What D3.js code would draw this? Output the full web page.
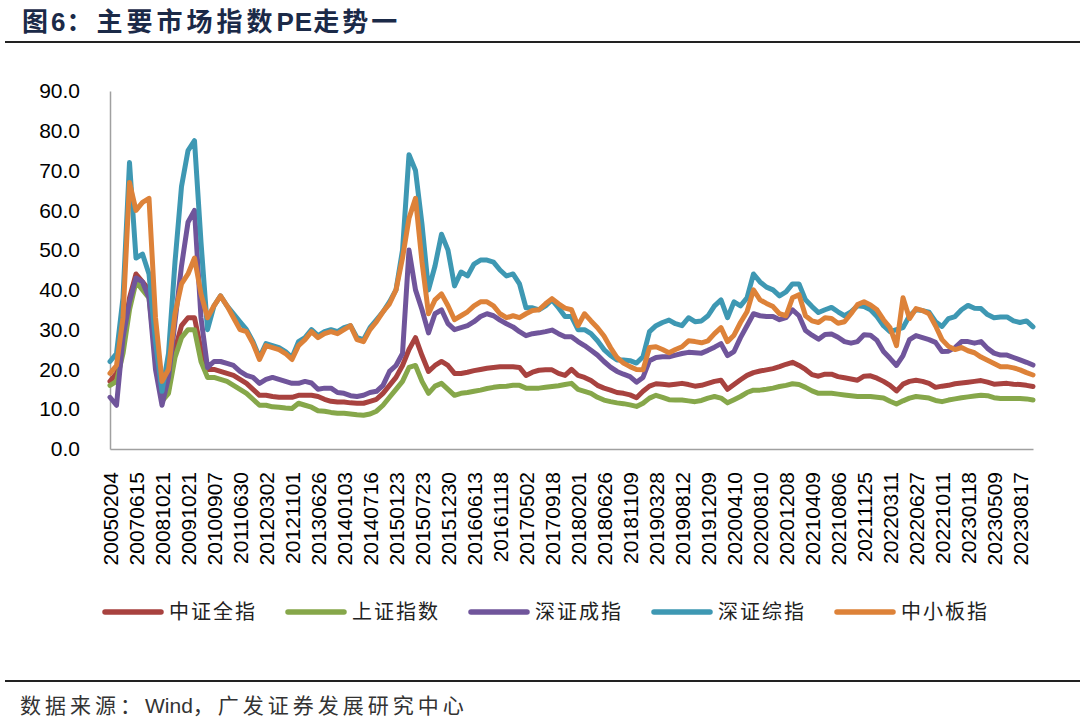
<!DOCTYPE html>
<html>
<head>
<meta charset="utf-8">
<script src="https://cdn.jsdelivr.net/npm/d3@7"></script>
<style>
  body { margin: 0; background: #fff; }
  svg { display: block; }
  .cn { font-family: "Noto Sans CJK SC", sans-serif; }
  .num { font-family: "Liberation Sans", Arial, sans-serif; }
</style>
</head>
<body>
<div id="chart"></div>
<script>
// x labels, one label every tickStep points
var tickLabels = ["20050204","20070615","20081021","20091021","20100907","20110630","20120302","20121101",
  "20130626","20140103","20140716","20150123","20150723","20151230","20160613","20161118","20170502",
  "20170918","20180201","20180626","20181109","20190328","20190812","20191209","20200410","20200810",
  "20201208","20210409","20210806","20211125","20220311","20220627","20221011","20230118","20230509",
  "20230817"];
var tickStep = 4;

// 中证全指
var zzqz = [17, 19, 27, 38, 44, 42, 40, 25, 12, 15,
  25, 31, 33, 33, 25, 20, 20, 19.5, 19, 18.5,
  17.5, 16.5, 15, 13.5, 13.5, 13.2, 13, 13, 13, 13.5,
  13.5, 13.5, 13.2, 12.5, 12, 11.8, 11.8, 11.6, 11.5, 11.5,
  12, 12.5, 14, 16, 18, 21, 25, 28, 23.5, 19.5,
  21, 22, 21, 19, 19, 19.3, 19.7, 20, 20.3, 20.5,
  20.7, 20.7, 20.7, 20.5, 18.5, 19.3, 19.8, 19.9, 19.9, 19,
  18.5, 20, 18.5, 18, 17.2, 16, 15.3, 14.8, 14.2, 14,
  13.6, 12.9, 14.5, 15.8, 16.4, 16.3, 16.1, 16.3, 16.5, 16.2,
  15.8, 16, 16.5, 17, 17.3, 15, 16.2, 17.4, 18.5, 19.2,
  19.6, 19.9, 20.2, 20.7, 21.3, 21.8, 21, 20, 18.7, 18.3,
  18.8, 18.8, 18.2, 17.9, 17.6, 17.3, 18.3, 18.4, 17.8, 17,
  16, 14.6, 16.3, 17, 17.3, 17, 16.5, 15.5, 15.8, 16,
  16.4, 16.6, 16.8, 17, 17.2, 16.8, 16.3, 16.4, 16.5, 16.3,
  16.2, 16, 15.7];

// 上证指数
var szzs = [16, 17, 24, 35, 42, 40, 38, 23, 12, 14,
  23, 28, 30, 30, 22, 18, 18, 17.5, 17, 16,
  15, 14, 12.5, 11, 11, 10.6, 10.5, 10.3, 10.2, 11.5,
  11, 10.5, 9.6, 9.5, 9.2, 9, 9, 8.8, 8.6, 8.5,
  8.8, 9.5, 11, 13, 15, 17, 20.5, 21, 17, 14,
  15.8, 16.5, 15, 13.5, 14, 14.2, 14.5, 14.8, 15.2, 15.5,
  15.7, 15.8, 16, 16, 15.3, 15.3, 15.3, 15.5, 15.7, 15.9,
  16.2, 16.5, 15, 14.5, 14, 13, 12.3, 11.9, 11.6, 11.4,
  11.1, 10.7, 11.5, 12.8, 13.5, 13, 12.4, 12.3, 12.3, 12.1,
  11.9, 12.2, 12.8, 13.2, 12.8, 11.6, 12.4, 13.2, 14.2, 14.8,
  14.8, 15, 15.3, 15.7, 16, 16.4, 16.2, 15.5, 14.6, 14,
  14, 14, 13.8, 13.6, 13.4, 13.2, 13.2, 13.2, 13, 12.8,
  12, 11.3, 12.1, 12.8, 13.2, 13, 12.8, 12.2, 11.9, 12.3,
  12.6, 12.9, 13.1, 13.3, 13.5, 13.4, 12.9, 12.7, 12.7, 12.7,
  12.7, 12.6, 12.3];

// 深证成指
var szcz = [13, 11, 28, 37, 43, 42, 38, 20, 11, 18,
  32, 46, 57, 60, 33, 20.5, 22, 22, 21.5, 21,
  19.5, 18.5, 18, 16.5, 17.5, 18, 17.5, 17, 16.5, 16.5,
  17, 16.6, 15, 15.3, 15.3, 14.2, 14, 13.4, 13.2, 13.5,
  14.2, 14.5, 16, 19.5, 21, 24, 50, 40, 35, 29.2,
  34, 35, 31.5, 30, 30.5, 31, 32, 33.3, 34, 33.5,
  32.4, 31.5, 30.7, 29.5, 28.5, 29, 29.2, 29.5, 29.9, 29,
  28.2, 28.2, 27, 26, 24.8, 23.6, 22, 20.6, 19.5, 18.8,
  18.2, 16.8, 18, 22.2, 23, 23.2, 23.2, 23.6, 24, 24.3,
  24.2, 24.1, 24.8, 25.6, 26.5, 23.5, 24.5, 28, 31, 34,
  33.5, 33.3, 33.3, 32.5, 33, 35, 33.5, 29.8, 28.6, 27.6,
  28.8, 28.9, 28.1, 27, 26.6, 27, 28.7, 28.6, 27.3, 24.5,
  22.8, 21, 23.5, 27.5, 28.5, 28, 27.5, 26.8, 24.5, 24.6,
  25.5, 27, 27, 26.6, 27, 25.3, 24.1, 23.6, 23.6, 23,
  22.4, 21.8, 21.1];

// 深证综指
var szzz = [22, 24, 38, 72, 48, 49, 44, 27, 14.5, 24,
  47, 66, 75, 77.5, 52, 30, 36, 38.5, 36, 34,
  32, 30, 27, 23, 26.5, 26, 25.5, 24.5, 23, 27,
  28, 30, 28.5, 29.5, 30, 29.5, 30.5, 31, 28, 27.5,
  30.5, 32.5, 34.5, 37, 40, 50, 74, 70, 56.5, 40,
  46, 54, 50, 41, 44.5, 43.5, 46.5, 47.5, 47.5, 47,
  45, 43.5, 44, 41.5, 35.5, 35.5, 35, 36, 37.5, 35.5,
  33.3, 33.3, 30, 30, 29, 27.2, 25, 23.5, 22.4, 22.4,
  22.2, 21.6, 23.2, 29.5, 31, 31.8, 32.4, 31.5, 31, 33,
  32, 32.2, 33.5, 36, 37.5, 33, 37, 36, 38, 44,
  42, 40.7, 40, 38.5, 39.5, 41.5, 41.5, 37.5, 35.8, 34.3,
  35, 35.6, 34.5, 33.5, 34.5, 36, 35.8, 35, 33.3, 31,
  29.5, 30, 30.5, 33.5, 35, 34.8, 34.4, 32, 30.8, 32.8,
  33.3, 35, 36.1, 35.4, 35.3, 33.8, 33, 33.2, 33.2, 32.2,
  31.8, 32.2, 30.7];

// 中小板指
var zxbz = [19, 21, 33, 67, 60, 62, 63, 33, 17, 20,
  34, 41.5, 44, 48, 39, 33, 36, 38.5, 36, 33,
  30, 29.5, 26.5, 22.5, 26, 25.5, 25, 24, 22.5, 26,
  27.5, 29.5, 28, 29, 29.5, 29, 30, 31, 27.5, 27,
  30, 32, 34.5, 36.5, 40, 48, 58, 63, 47, 34,
  37.5, 39, 36, 32.5, 33.5, 34.5, 36, 37, 37, 36,
  34, 33, 33.5, 33, 34, 34.8, 35, 36.5, 37.8, 36.5,
  35.4, 35, 31, 34, 32.2, 30.5, 28.4, 25.5, 23, 21.6,
  20.7, 20, 19.9, 25.5, 25.7, 25, 24.2, 25, 25.7, 27.2,
  27, 26.7, 27.2, 29, 30.5, 27, 28.6, 31.8, 34.5, 40,
  37.5, 36.6, 35.8, 34, 33.5, 38, 38.8, 33.5, 32.2, 31.8,
  33, 32.8, 31.6, 32, 34, 36.3, 37, 36.2, 35, 32.5,
  30.5, 26, 38, 32.8, 35.3, 34.8, 34, 31, 27.5, 25.8,
  25, 25.5, 24.7, 24.2, 23.1, 22.3, 21.5, 20.7, 20.7, 20.4,
  19.9, 19.2, 18.6];

var seriesNames = ["中证全指", "上证指数", "深证成指", "深证综指", "中小板指"];
var seriesValues = [zzqz, szzs, szcz, szzz, zxbz];
var seriesColors = ["#a8423f", "#86a74a", "#70559b", "#3e98b3", "#dd8239"];
var yTicks = [0, 10, 20, 30, 40, 50, 60, 70, 80, 90];

var W = 1080, H = 721;
var margin = {top: 91, right: 47, bottom: 272, left: 110},
    width = W - margin.left - margin.right,
    height = H - margin.top - margin.bottom;

var svg = d3.select("#chart")
  .append("svg")
    .attr("width", W)
    .attr("height", H);

svg.append("rect").attr("width", W).attr("height", H).attr("fill", "#fff");

// title: CJK parts spaced, latin parts not
var title = svg.append("text")
  .attr("class", "cn")
  .attr("x", 22)
  .attr("y", 31)
  .style("font-size", "26px")
  .style("font-weight", "bold")
  .attr("fill", "#1b2a48");
[["图", 3], ["6", 1], ["：", 4], ["主要市场指数", 4], ["PE", 1], ["走势一", 3]].forEach(function(p) {
  title.append("tspan")
    .attr("class", /[A-Za-z0-9]/.test(p[0]) ? "num" : "cn")
    .style("letter-spacing", p[1] + "px")
    .text(p[0]);
});

svg.append("line").attr("x1", 5).attr("x2", W).attr("y1", 42).attr("y2", 42)
  .attr("stroke", "#222").attr("stroke-width", 2);
svg.append("line").attr("x1", 5).attr("x2", W).attr("y1", 681).attr("y2", 681)
  .attr("stroke", "#222").attr("stroke-width", 2);

// source line
var source = svg.append("text")
  .attr("class", "cn")
  .attr("x", 20)
  .attr("y", 713)
  .style("font-size", "21px")
  .attr("fill", "#333");
source.append("tspan").style("letter-spacing", "4px").text("数据来源：");
source.append("tspan").attr("class", "num").style("letter-spacing", "0px").text("Wind");
source.append("tspan").style("letter-spacing", "4px").text("，广发证券发展研究中心");

var g = svg.append("g")
  .attr("transform", "translate(" + margin.left + "," + margin.top + ")");

var N = zzqz.length;

// scales
var x = d3.scaleLinear()
  .domain([0, N - 1])
  .range([0, width]);

var y = d3.scaleLinear()
  .domain([0, 90])
  .range([height, 0]);

// Y axis
var yAxis = g.append("g")
  .call(d3.axisLeft(y)
    .tickValues(yTicks)
    .tickFormat(d3.format(".1f"))
    .tickSize(0)
    .tickSizeOuter(0)
    .tickPadding(30));
yAxis.select(".domain").attr("stroke", "#a0a0a0").attr("stroke-width", 1.5);
yAxis.selectAll("text")
  .attr("class", "num")
  .style("font-size", "21px")
  .attr("fill", "#000");

// X axis
var xAxis = g.append("g")
  .attr("transform", "translate(0," + height + ")")
  .call(d3.axisBottom(x)
    .tickValues(d3.range(0, N, tickStep))
    .tickFormat(function(i) { return tickLabels[i / tickStep]; })
    .tickSize(0)
    .tickSizeOuter(0));
xAxis.select(".domain").attr("stroke", "#a0a0a0").attr("stroke-width", 1.5);
xAxis.selectAll("text")
  .attr("class", "num")
  .style("font-size", "21px")
  .attr("fill", "#000")
  .attr("transform", "rotate(-90)")
  .attr("x", -23)
  .attr("y", 0)
  .attr("dy", "0.35em")
  .style("text-anchor", "end");

// lines
var line = d3.line()
  .x(function(d, i) { return x(i); })
  .y(function(d) { return y(d); });

seriesValues.forEach(function(vals, k) {
  g.append("path")
    .datum(vals)
    .attr("fill", "none")
    .attr("stroke", seriesColors[k])
    .attr("stroke-width", 5)
    .attr("stroke-linejoin", "round")
    .attr("stroke-linecap", "round")
    .attr("d", line);
});

// legend
var legend = svg.append("g").attr("transform", "translate(103,612)");
seriesNames.forEach(function(name, k) {
  var item = legend.append("g").attr("transform", "translate(" + (k * 183) + ",0)");
  item.append("line")
    .attr("x1", 2).attr("x2", 58)
    .attr("stroke", seriesColors[k])
    .attr("stroke-width", 5.5)
    .attr("stroke-linecap", "round");
  item.append("text")
    .attr("class", "cn")
    .attr("x", 66)
    .attr("y", 7)
    .style("font-size", "20px")
    .style("letter-spacing", "2px")
    .attr("fill", "#222")
    .text(name);
});
</script>
</body>
</html>
